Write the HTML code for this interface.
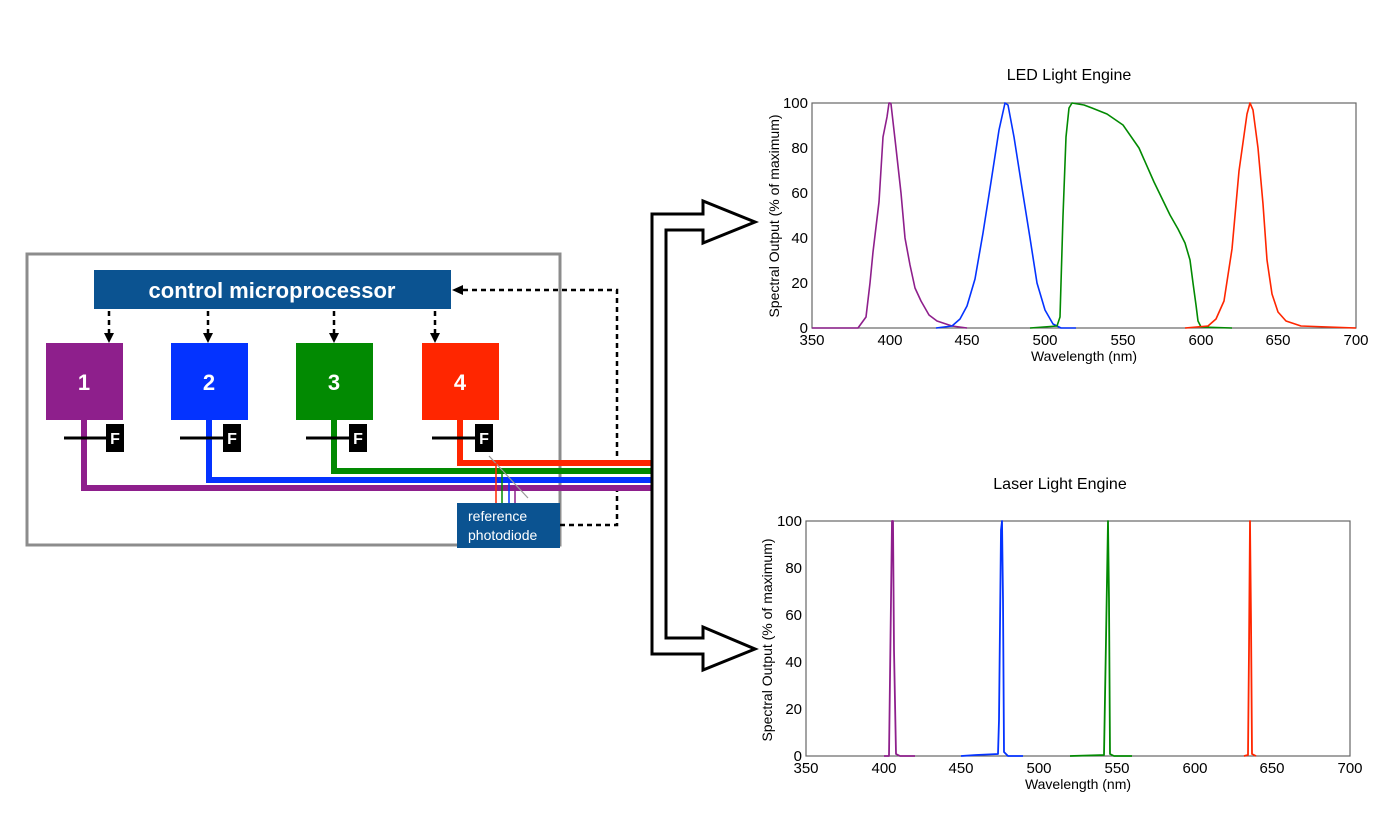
<!DOCTYPE html>
<html><head><meta charset="utf-8"><style>
html,body{margin:0;padding:0;background:#fff;}
svg{display:block;font-family:"Liberation Sans",Arial,sans-serif;}
</style></head><body>
<svg width="1400" height="840" viewBox="0 0 1400 840" xmlns="http://www.w3.org/2000/svg">
<rect x="27" y="254" width="533" height="291" fill="none" stroke="#8c8c8c" stroke-width="3"/>
<rect x="94" y="270" width="357" height="39" fill="#0b5391"/>
<text x="272" y="298" font-size="22" font-weight="bold" fill="#fff" text-anchor="middle">control  microprocessor</text>
<g stroke="#000" stroke-width="2.5" stroke-dasharray="5,4" fill="none">
<line x1="109" y1="311" x2="109" y2="334"/>
<line x1="208" y1="311" x2="208" y2="334"/>
<line x1="334" y1="311" x2="334" y2="334"/>
<line x1="435" y1="311" x2="435" y2="334"/>
<polyline points="560,525 617,525 617,290 462,290"/>
</g>
<g fill="#000">
<polygon points="104,333 114,333 109,343"/>
<polygon points="203,333 213,333 208,343"/>
<polygon points="329,333 339,333 334,343"/>
<polygon points="430,333 440,333 435,343"/>
<polygon points="452,290 463,285 463,295"/>
</g>
<rect x="46" y="343" width="77" height="77" fill="#8e1f8c"/>
<rect x="171" y="343" width="77" height="77" fill="#0433ff"/>
<rect x="296" y="343" width="77" height="77" fill="#028a02"/>
<rect x="422" y="343" width="77" height="77" fill="#ff2600"/>
<g font-size="22" font-weight="bold" fill="#fff" text-anchor="middle">
<text x="84" y="390">1</text><text x="209" y="390">2</text><text x="334" y="390">3</text><text x="460" y="390">4</text>
</g>
<g fill="none" stroke-width="6">
<polyline points="84,420 84,488 652,488" stroke="#8e1f8c"/>
<polyline points="209,420 209,480 652,480" stroke="#0433ff"/>
<polyline points="334,420 334,471 652,471" stroke="#028a02"/>
<polyline points="460,420 460,463 652,463" stroke="#ff2600"/>
</g>
<g stroke="#000" stroke-width="3">
<line x1="64" y1="438" x2="108" y2="438"/>
<line x1="180" y1="438" x2="224" y2="438"/>
<line x1="306" y1="438" x2="350" y2="438"/>
<line x1="432" y1="438" x2="476" y2="438"/>
</g>
<g fill="#000">
<rect x="106" y="424" width="18" height="28"/>
<rect x="223" y="424" width="18" height="28"/>
<rect x="349" y="424" width="18" height="28"/>
<rect x="475" y="424" width="18" height="28"/>
</g>
<g font-size="16" font-weight="bold" fill="#fff" text-anchor="middle">
<text x="115" y="444">F</text><text x="232" y="444">F</text><text x="358" y="444">F</text><text x="484" y="444">F</text>
</g>
<line x1="489" y1="456" x2="528" y2="498" stroke="#999" stroke-width="1.2"/>
<g stroke-width="1.5">
<line x1="496" y1="463" x2="496" y2="503" stroke="#ff2600"/>
<line x1="502" y1="471" x2="502" y2="503" stroke="#028a02"/>
<line x1="509" y1="480" x2="509" y2="503" stroke="#0433ff"/>
<line x1="515" y1="488" x2="515" y2="503" stroke="#8e1f8c"/>
</g>
<rect x="457" y="503" width="103" height="45" fill="#0b5391"/>
<text x="468" y="521" font-size="14" fill="#fff">reference</text>
<text x="468" y="540" font-size="14" fill="#fff">photodiode</text>
<polygon points="652,214 703,214 703,201 755,222 703,243 703,230 666,230 666,638 703,638 703,627 755,649 703,670 703,654 652,654" fill="#fff" stroke="#000" stroke-width="3"/>

<text x="1069" y="80" font-size="16" text-anchor="middle">LED Light Engine</text>
<rect x="812" y="103" width="544" height="225" fill="none" stroke="#666" stroke-width="1.2"/>
<g font-size="15" text-anchor="end">
<text x="808" y="108">100</text><text x="808" y="153">80</text><text x="808" y="198">60</text><text x="808" y="243">40</text><text x="808" y="288">20</text><text x="808" y="333">0</text>
</g>
<g font-size="15" text-anchor="middle">
<text x="812" y="345">350</text><text x="890" y="345">400</text><text x="967" y="345">450</text><text x="1045" y="345">500</text><text x="1123" y="345">550</text><text x="1201" y="345">600</text><text x="1278" y="345">650</text><text x="1356" y="345">700</text>
</g>
<text x="1084" y="361" font-size="14" text-anchor="middle">Wavelength (nm)</text>
<text transform="translate(779,216) rotate(-90)" font-size="14" text-anchor="middle">Spectral Output (% of maximum)</text>
<g fill="none" stroke-width="1.6" stroke-linejoin="round">
<polyline stroke="#8e1f8c" points="812,328 858,328 866,317 870,283 873,252 879,202 883,137 887,117 889,103 890,103 891,104 896,148 901,193 905,238 910,265 915,288 921,301 929,315 937,321 952,326 967,328"/>
<polyline stroke="#0433ff" points="936,328 952,326 960,319 967,306 975,279 983,233 991,182 999,130 1005,103 1008,105 1014,137 1022,188 1030,238 1037,283 1045,310 1053,324 1061,328 1076,328"/>
<polyline stroke="#028a02" points="1030,328 1057,326 1060,317 1063,216 1066,137 1069,108 1072,103 1084,105 1092,108 1107,114 1123,125 1139,148 1154,182 1170,215 1178,229 1185,243 1190,260 1193,283 1196,305 1198,321 1201,327 1232,328"/>
<polyline stroke="#ff2600" points="1185,328 1208,326 1216,319 1224,301 1232,249 1239,171 1247,114 1250,103 1253,110 1258,148 1263,204 1267,260 1272,294 1278,312 1286,321 1301,326 1356,328"/>
</g>

<text x="1060" y="489" font-size="16" text-anchor="middle">Laser Light Engine</text>
<rect x="806" y="521" width="544" height="235" fill="none" stroke="#666" stroke-width="1.2"/>
<g font-size="15" text-anchor="end">
<text x="802" y="526">100</text><text x="802" y="573">80</text><text x="802" y="620">60</text><text x="802" y="667">40</text><text x="802" y="714">20</text><text x="802" y="761">0</text>
</g>
<g font-size="15" text-anchor="middle">
<text x="806" y="773">350</text><text x="884" y="773">400</text><text x="961" y="773">450</text><text x="1039" y="773">500</text><text x="1117" y="773">550</text><text x="1195" y="773">600</text><text x="1272" y="773">650</text><text x="1350" y="773">700</text>
</g>
<text x="1078" y="789" font-size="14" text-anchor="middle">Wavelength (nm)</text>
<text transform="translate(772,640) rotate(-90)" font-size="14" text-anchor="middle">Spectral Output (% of maximum)</text>
<g fill="none" stroke-width="1.8" stroke-linejoin="round">
<polyline stroke="#8e1f8c" points="884,756 889,756 891,600 892,521 893,521 894,650 896,754 900,756 915,756"/>
<polyline stroke="#0433ff" points="961,756 976,755 998,754 999,720 1001,530 1002,521 1003,600 1004,752 1008,756 1023,756"/>
<polyline stroke="#028a02" points="1070,756 1104,755 1106,640 1108,521 1109,600 1110,754 1114,756 1132,756"/>
<polyline stroke="#ff2600" points="1244,756 1248,755 1249,650 1250,521 1251,620 1252,754 1256,756"/>
</g>
</svg>
</body></html>
